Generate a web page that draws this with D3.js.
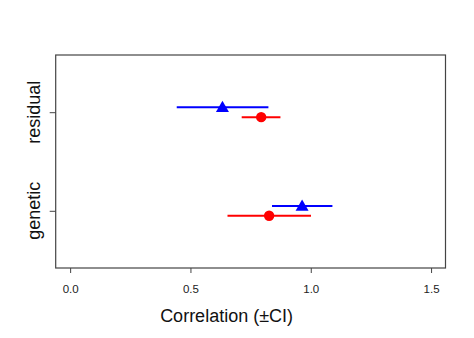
<!DOCTYPE html>
<html><head><meta charset="utf-8">
<script src="https://cdn.jsdelivr.net/npm/d3@7"></script>
<style>body{margin:0;background:#fff}svg{display:block}text{font-family:"Liberation Sans",Arial,sans-serif}</style>
</head><body>
<svg id="c" width="474" height="338"></svg>
<script>
const categories = ["genetic", "residual"];
const series = ["blue", "red"];
const blueEst = [0.964, 0.633];
const blueLo  = [0.839, 0.443];
const blueHi  = [1.090, 0.824];
const redEst  = [0.827, 0.794];
const redLo   = [0.654, 0.713];
const redHi   = [1.001, 0.874];
const xTicks  = [0, 0.5, 1.0, 1.5];
const xLabel  = "Correlation (\u00B1CI)";

const svg = d3.select("#c");
const L = 55.7, R = 445.5, T = 55, B = 268;
const x = d3.scaleLinear().domain([-0.06, 1.56]).range([L, R]);
const y = d3.scaleLinear().domain([0.42, 2.58]).range([B, T]);
const catPos = c => categories.indexOf(c) + 1;

svg.append("rect").attr("x", L).attr("y", T).attr("width", R - L).attr("height", B - T)
  .attr("fill", "none").attr("stroke", "#444").attr("stroke-width", 1.2);

// x axis
const xa = svg.append("g").attr("transform", `translate(0,${B})`)
  .call(d3.axisBottom(x).tickValues(xTicks).tickFormat(d3.format(".1f")).tickSize(5).tickPadding(12));
xa.select(".domain").remove();
xa.selectAll("line").attr("stroke", "#444");
xa.selectAll("text").attr("font-size", 11.5).attr("fill", "#222").attr("font-family", '"Liberation Sans",Arial,sans-serif');

// y axis
const ya = svg.append("g").attr("transform", `translate(${L},0)`)
  .call(d3.axisLeft(y).tickValues(categories.map(catPos)).tickFormat(() => "").tickSize(6));
ya.select(".domain").remove();
ya.selectAll("line").attr("stroke", "#444");

categories.forEach(c => {
  svg.append("text").attr("transform", `translate(40,${y(catPos(c))}) rotate(-90)`)
    .attr("text-anchor", "middle").attr("font-size", 18).attr("fill", "#111").text(c);
});

svg.append("text").attr("x", (L + R) / 2 - 24).attr("y", 322).attr("text-anchor", "middle")
  .attr("font-size", 18).attr("fill", "#111").text(xLabel);

const data = [];
categories.forEach((c, i) => {
  data.push({cat: c, s: "blue", est: blueEst[i], lo: blueLo[i], hi: blueHi[i], off: 0.05});
  data.push({cat: c, s: "red", est: redEst[i], lo: redLo[i], hi: redHi[i], off: -0.05});
});
const col = {blue: "#0000ff", red: "#ff0000"};

svg.append("g").selectAll("line").data(data).join("line")
  .attr("x1", d => x(d.lo)).attr("x2", d => x(d.hi))
  .attr("y1", d => y(catPos(d.cat) + d.off)).attr("y2", d => y(catPos(d.cat) + d.off))
  .attr("stroke", d => col[d.s]).attr("stroke-width", 2);

svg.append("g").selectAll("path").data(data).join("path")
  .attr("transform", d => `translate(${x(d.est)},${y(catPos(d.cat) + d.off)})`)
  .attr("d", d => d.s === "blue" ? "M0,-6.5L6.5,4.8L-6.5,4.8Z" : d3.symbol(d3.symbolCircle, 85)())
  .attr("fill", d => col[d.s]);
</script>
</body></html>
